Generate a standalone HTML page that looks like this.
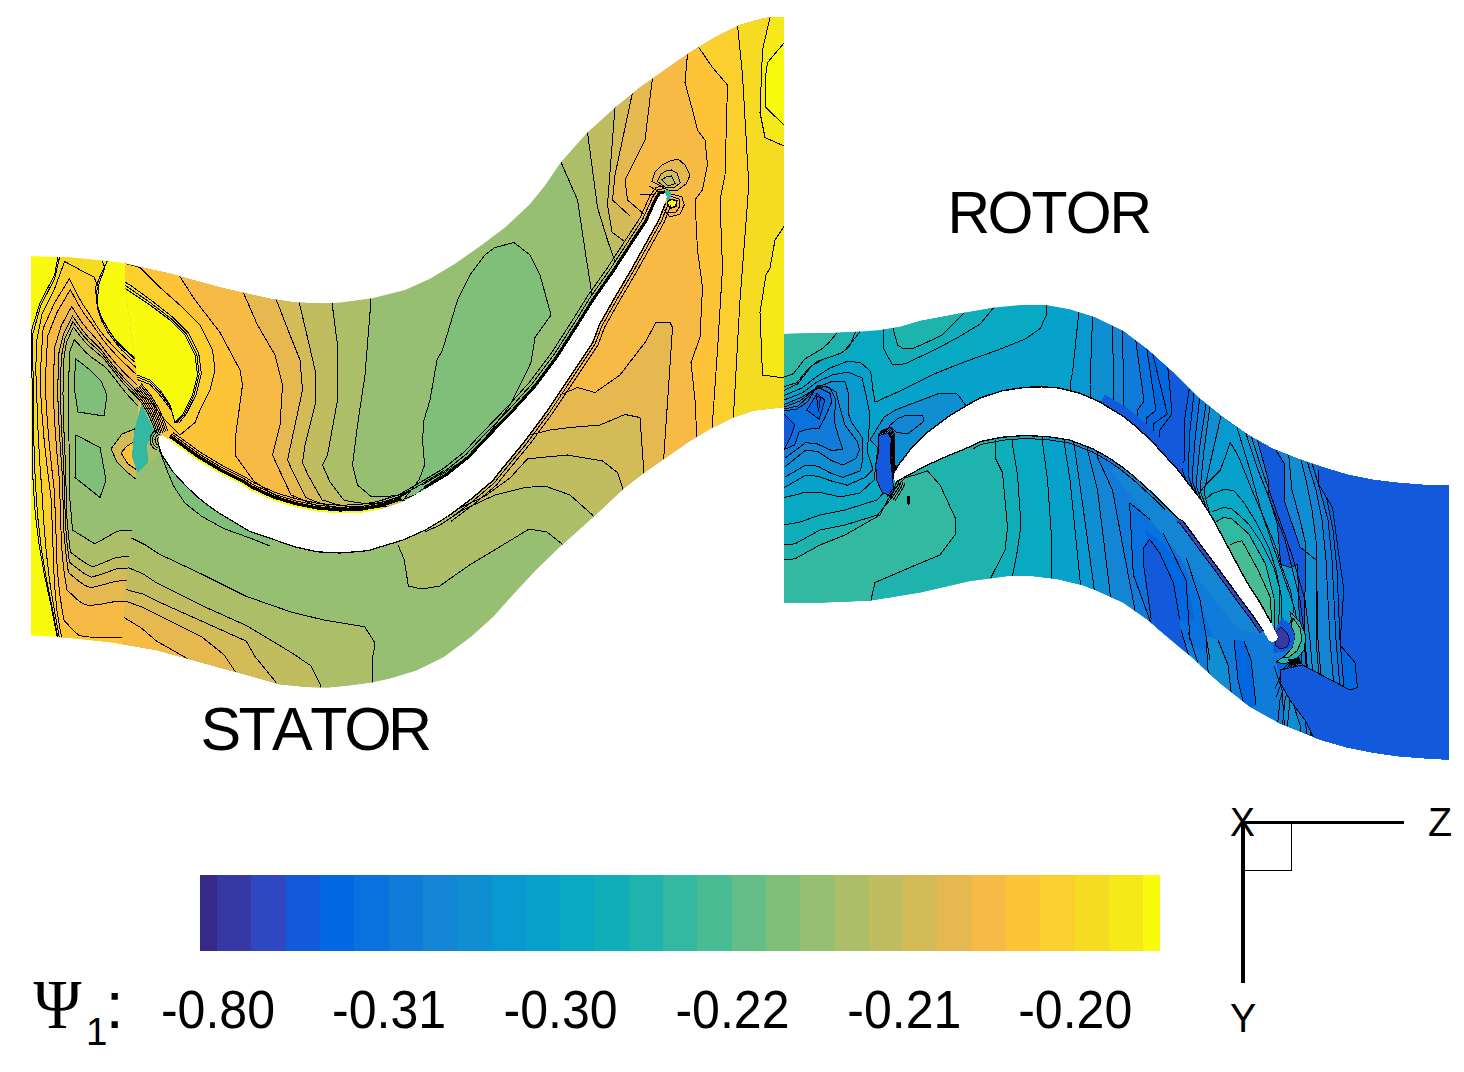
<!DOCTYPE html>
<html><head><meta charset="utf-8"><title>Stator / Rotor contour</title>
<style>html,body{margin:0;padding:0;background:#fff;overflow:hidden}svg{display:block}</style>
</head><body>
<svg width="1464" height="1072" viewBox="0 0 1464 1072" shape-rendering="crispEdges">
<defs>
<clipPath id="cst"><polygon points="31,256 70,257.5 120,262.5 170,273.8 220,287.5 270,298.8 295,302.5 323,303.4 340,302.8 370,298.8 405,290 430,278.8 455,263.8 480,246.2 505,227.5 530,204 545,185.5 560,163.5 586.6,133.4 614.6,108.2 640,87.5 665,70 690,52.5 715,37.5 740,25 765,18 784,17 784,407 753,410.5 731.7,418 710,428.7 688.8,441.6 667.3,456.6 645.8,471.6 624.4,487.7 603,508 581.5,527.4 560,546.7 536,570 514.6,593 493,617 471.3,636.4 443.9,656.9 416.6,670.5 389.3,678.7 372.9,682.2 348.3,685.6 327.8,687.6 307.3,687 280,684.2 246,674.8 201.5,662.5 156.7,650 112,642.3 67,637.4 31,635.6"/></clipPath>
<clipPath id="cin"><polygon points="0,240 125,240 125,285 131,330 136,365 139,400 137,440 136,480 134,510 132,530 128,567 125,605 122,645 122,720 0,720"/></clipPath>
<clipPath id="cpa"><polygon points="125,240 125,285 131,330 136,365 139,400 137,440 136,480 134,510 132,530 128,567 125,605 122,645 122,720 820,720 820,0 125,0"/></clipPath>
<clipPath id="cup"><polygon points="100,440 158,440 180,462 196,477 250,510 300,527 340,533 380,528 425,509 470,478 500,450 540,401 580,342 613,286 647,230 665,195 700,195 820,195 820,0 100,0"/></clipPath>
<clipPath id="cps"><polygon points="100,440 158,440 180,462 196,477 250,510 300,527 340,533 380,528 425,509 470,478 500,450 540,401 580,342 613,286 647,230 665,195 700,195 820,195 820,720 100,720"/></clipPath>
<clipPath id="crt"><polygon points="784,334 829.3,333.2 858.4,331.8 880.7,329.9 900,327 920,321 957.5,314 995,307.5 1020,305 1045,305 1070,309.5 1095,317.5 1123,331 1148,350 1173,372.5 1198,397.5 1223,417.5 1248,435 1273,449 1298,459 1323,467.5 1348,475 1373,480 1398,483 1423,485 1449,485 1449,759.5 1423,758 1398,756 1373,752.5 1348,747.5 1320,739.4 1309.3,735 1279.4,723 1249.6,706.6 1219.7,682.7 1189.9,655.8 1160,630.4 1148,620 1123,602.5 1098,591 1082.5,585 1057.5,579 1032.5,576 1007.5,576 970,581 920,592.5 870,600.5 820,602.5 784,602.5"/></clipPath>
</defs>
<rect width="1464" height="1072" fill="#fff"/>
<g clip-path="url(#cst)">
<g clip-path="url(#cin)">
<polygon points="0,240 140,240 140,720 0,720" fill="#f9fb0e"/>
<polygon points="150,665 142.1,664.5 134.2,664.1 126.3,663.6 118.4,663.1 110.5,662.6 102.6,662.2 94.9,660.5 87.4,658.2 79.8,655.9 72.5,652.8 65.6,649.3 61.3,642.7 57,636 51.1,605.8 44.6,575.8 39.2,545.6 35.4,515.1 33.2,484.5 32.1,453.8 32.1,423 32.2,392.3 31.8,361.6 31.3,330.9 40.3,302 54.6,275 60,245 74.6,246.5 89.1,248.1 103.7,249.6 107.3,261 101,274 95.7,287.2 96.4,301.8 100.5,315.5 107.7,328.3 115.8,340.5 126.3,350.6 137.4,360 150,367.5 160,700" fill="#f5e919"/>
<polygon points="150,664.6 142.2,664.1 134.3,663.7 126.5,663.2 118.7,662.8 110.9,662.3 103,661.9 95.4,660.4 87.9,658.3 80.3,656.1 73.1,653.3 66.3,649.6 62,643.1 57.7,636.5 51.9,606.7 45.9,576.9 41.1,546.9 37.7,516.7 35.6,486.4 34.2,456 33.7,425.6 33.5,395.2 32.9,364.8 32.7,334.4 40.7,305.6 54.6,278.8 61.3,249.5 74.5,252.1 87.7,254.6 101,257.1 104.9,268 100.1,280.5 96.2,293 97.7,306.8 102.2,319.6 109.4,331.6 117.4,343 127.5,352.7 138.1,361.8 150,369.2 160,700" fill="#f6db23"/>
<polygon points="150,663.5 142.4,663.1 134.7,662.8 127.1,662.4 119.4,662 111.8,661.6 104.1,661.2 96.6,660.1 89.2,658.4 81.8,656.6 74.5,654.5 68.4,650.4 63.9,644.2 59.4,638 54.1,608.8 49.4,579.7 46.1,550.4 43.7,520.9 41.9,491.3 39.7,461.9 38.1,432.3 37,402.8 35.9,373.2 36.2,343.6 41.7,315 54.6,288.7 64.6,261.5 74.2,266.7 83.9,271.9 93.8,276.9 98.4,286.8 97.8,297.6 97.7,308.5 101.2,319.8 106.6,330.4 113.8,340.4 121.6,349.9 130.6,358.4 139.9,366.5 150,373.6 160,700" fill="#fbcf2d"/>
<polygon points="150,662 142.6,661.7 135.2,661.4 127.9,661.1 120.5,660.8 113.1,660.5 105.7,660.2 98.4,659.7 91.1,658.6 83.8,657.4 76.5,656.2 71.3,651.5 66.7,645.7 62,640 57.1,612 54.4,583.7 53.3,555.3 52.3,526.9 51.1,498.5 47.5,470.3 44.3,442 42,413.7 40.2,385.4 41.2,356.9 43.1,328.6 54.5,302.9 69.4,278.7 73.9,287.7 78.4,296.7 83.4,305.4 89.2,313.7 94.4,322.2 99.9,330.6 106.2,338.5 113,345.9 120.2,353 127.6,359.8 135,366.6 142.5,373.3 150,380 160,700" fill="#ffc337"/>
<polygon points="150,638.1 142.8,637.8 135.6,637.6 128.3,637.4 121.1,637.2 113.9,637.1 106.8,637.4 99.8,637.6 92.8,637.2 85.8,636.8 78.8,635.2 73.5,630.7 68.7,625.4 63.9,620.1 59.7,594.5 57.2,568.7 56.3,542.7 55.4,516.8 54.3,490.8 51.4,465.1 48.8,439.2 46.8,413.4 45.3,387.5 46.2,361.5 47.8,335.7 57.2,312 70.3,289.7 75,298.2 79.7,306.7 84.9,314.8 90.9,322.5 96.4,330.4 101.9,338.4 108,346 114.5,353.2 121.2,360.2 128.3,366.9 135.4,373.6 142.7,380.1 150,386.5 160,700" fill="#f7ba45"/>
<polygon points="150,601.8 143,601.7 136,601.5 129,601.4 122,601.4 115,601.5 108.5,602.8 101.9,604.1 95.3,604.9 88.8,605.6 82.3,603.4 76.9,599.2 71.9,594.5 66.8,589.8 63.6,567.9 61.5,545.8 60.8,523.6 60.1,501.4 59.3,479.2 57.3,457.1 55.5,435 54.2,412.9 53.2,390.7 53.8,368.5 55,346.3 61.3,325.6 71.7,306.4 76.6,314.2 81.6,321.9 87.2,329.1 93.4,335.8 99.4,342.6 104.8,350.1 110.6,357.3 116.6,364.4 122.8,371.2 129.4,377.7 136,384.2 143,390.3 150,396.4 160,700" fill="#e5b950"/>
<polygon points="150,581 143.1,580.9 136.3,580.8 129.4,580.7 122.6,580.9 115.7,581.1 109.4,583 103.1,584.8 96.8,586.4 90.5,587.7 84.3,585.1 78.9,581.2 73.6,576.8 68.4,572.5 65.8,552.6 64,532.7 63.4,512.6 62.8,492.6 62.1,472.5 60.7,452.6 59.4,432.6 58.4,412.6 57.7,392.5 58.2,372.5 59,352.5 63.6,333.5 72.5,316 77.6,323.3 82.7,330.6 88.5,337.3 94.9,343.4 101.1,349.7 106.5,356.8 112.1,363.9 117.8,370.8 123.7,377.6 130.1,383.9 136.4,390.3 143.2,396.2 150,402.1 160,700" fill="#d3bb58"/>
<polygon points="150,568.7 143.2,568.6 136.4,568.5 129.6,568.5 122.9,568.7 116.1,569 109.9,571.2 103.8,573.4 97.7,575.4 91.5,577.1 85.5,574.3 80,570.5 74.7,566.4 69.4,562.2 67.1,543.6 65.5,524.9 64.9,506.1 64.4,487.4 63.8,468.6 62.7,449.9 61.7,431.1 60.9,412.4 60.4,393.6 60.7,374.8 61.5,356.1 65,338.1 72.9,321.7 78.1,328.7 83.4,335.8 89.3,342.1 95.8,348 102.1,353.9 107.5,360.8 113,367.7 118.6,374.6 124.3,381.3 130.4,387.6 136.6,393.9 143.3,399.7 150,405.5 160,700" fill="#c0bc60"/>
<polygon points="150,556.7 143.3,556.7 136.6,556.6 129.9,556.6 123.2,556.9 116.5,557.3 110.5,559.8 104.5,562.3 98.5,564.7 92.5,566.8 86.6,563.8 81.1,560.1 75.7,556.2 70.4,552.3 68.4,534.8 66.9,517.4 66.4,499.8 65.9,482.3 65.5,464.8 64.6,447.3 63.9,429.7 63.4,412.2 63,394.7 63.2,377.1 63.8,359.6 66.3,342.6 73.4,327.2 78.7,334 84,340.8 90,346.8 96.6,352.4 103.1,357.9 108.5,364.7 113.9,371.5 119.3,378.3 124.8,384.9 130.8,391.2 136.8,397.4 143.4,403.1 150,408.7 160,700" fill="#acbe68"/>
<polygon points="150,530 143.5,530 136.9,530 130.4,530.1 123.9,530.6 117.4,531.1 111.7,534.4 106,537.6 100.4,540.9 94.7,543.8 89.2,540.4 83.6,536.9 78.1,533.5 72.5,530 71.3,515.3 70,500.5 69.7,485.8 69.4,471 69.1,456.2 69,441.4 68.9,426.6 68.8,411.8 68.7,397.1 68.8,382.3 69.1,367.5 69.3,352.7 74.4,339.5 79.9,345.7 85.4,352 91.7,357.4 98.5,362.2 105.3,367 110.6,373.3 115.8,379.9 120.8,386.5 126,393 131.6,399.2 137.3,405.2 143.6,410.6 150,416 160,700" fill="#97bf71"/>
<polyline points="150,665 142.1,664.5 134.2,664.1 126.3,663.6 118.4,663.1 110.5,662.6 102.6,662.2 94.9,660.5 87.4,658.2 79.8,655.9 72.5,652.8 65.6,649.3 61.3,642.7 57,636 51.1,605.8 44.6,575.8 39.2,545.6 35.4,515.1 33.2,484.5 32.1,453.8 32.1,423 32.2,392.3 31.8,361.6 31.3,330.9 40.3,302 54.6,275 60,245 74.6,246.5 89.1,248.1 103.7,249.6 107.3,261 101,274 95.7,287.2 96.4,301.8 100.5,315.5 107.7,328.3 115.8,340.5 126.3,350.6 137.4,360 150,367.5" fill="none" stroke="#000" stroke-width="1"/>
<polyline points="150,664.6 142.2,664.1 134.3,663.7 126.5,663.2 118.7,662.8 110.9,662.3 103,661.9 95.4,660.4 87.9,658.3 80.3,656.1 73.1,653.3 66.3,649.6 62,643.1 57.7,636.5 51.9,606.7 45.9,576.9 41.1,546.9 37.7,516.7 35.6,486.4 34.2,456 33.7,425.6 33.5,395.2 32.9,364.8 32.7,334.4 40.7,305.6 54.6,278.8 61.3,249.5 74.5,252.1 87.7,254.6 101,257.1 104.9,268 100.1,280.5 96.2,293 97.7,306.8 102.2,319.6 109.4,331.6 117.4,343 127.5,352.7 138.1,361.8 150,369.2" fill="none" stroke="#000" stroke-width="1"/>
<polyline points="150,663.5 142.4,663.1 134.7,662.8 127.1,662.4 119.4,662 111.8,661.6 104.1,661.2 96.6,660.1 89.2,658.4 81.8,656.6 74.5,654.5 68.4,650.4 63.9,644.2 59.4,638 54.1,608.8 49.4,579.7 46.1,550.4 43.7,520.9 41.9,491.3 39.7,461.9 38.1,432.3 37,402.8 35.9,373.2 36.2,343.6 41.7,315 54.6,288.7 64.6,261.5 74.2,266.7 83.9,271.9 93.8,276.9 98.4,286.8 97.8,297.6 97.7,308.5 101.2,319.8 106.6,330.4 113.8,340.4 121.6,349.9 130.6,358.4 139.9,366.5 150,373.6" fill="none" stroke="#000" stroke-width="1"/>
<polyline points="150,662 142.6,661.7 135.2,661.4 127.9,661.1 120.5,660.8 113.1,660.5 105.7,660.2 98.4,659.7 91.1,658.6 83.8,657.4 76.5,656.2 71.3,651.5 66.7,645.7 62,640 57.1,612 54.4,583.7 53.3,555.3 52.3,526.9 51.1,498.5 47.5,470.3 44.3,442 42,413.7 40.2,385.4 41.2,356.9 43.1,328.6 54.5,302.9 69.4,278.7 73.9,287.7 78.4,296.7 83.4,305.4 89.2,313.7 94.4,322.2 99.9,330.6 106.2,338.5 113,345.9 120.2,353 127.6,359.8 135,366.6 142.5,373.3 150,380" fill="none" stroke="#000" stroke-width="1"/>
<polyline points="150,638.1 142.8,637.8 135.6,637.6 128.3,637.4 121.1,637.2 113.9,637.1 106.8,637.4 99.8,637.6 92.8,637.2 85.8,636.8 78.8,635.2 73.5,630.7 68.7,625.4 63.9,620.1 59.7,594.5 57.2,568.7 56.3,542.7 55.4,516.8 54.3,490.8 51.4,465.1 48.8,439.2 46.8,413.4 45.3,387.5 46.2,361.5 47.8,335.7 57.2,312 70.3,289.7 75,298.2 79.7,306.7 84.9,314.8 90.9,322.5 96.4,330.4 101.9,338.4 108,346 114.5,353.2 121.2,360.2 128.3,366.9 135.4,373.6 142.7,380.1 150,386.5" fill="none" stroke="#000" stroke-width="1"/>
<polyline points="150,601.8 143,601.7 136,601.5 129,601.4 122,601.4 115,601.5 108.5,602.8 101.9,604.1 95.3,604.9 88.8,605.6 82.3,603.4 76.9,599.2 71.9,594.5 66.8,589.8 63.6,567.9 61.5,545.8 60.8,523.6 60.1,501.4 59.3,479.2 57.3,457.1 55.5,435 54.2,412.9 53.2,390.7 53.8,368.5 55,346.3 61.3,325.6 71.7,306.4 76.6,314.2 81.6,321.9 87.2,329.1 93.4,335.8 99.4,342.6 104.8,350.1 110.6,357.3 116.6,364.4 122.8,371.2 129.4,377.7 136,384.2 143,390.3 150,396.4" fill="none" stroke="#000" stroke-width="1"/>
<polyline points="150,581 143.1,580.9 136.3,580.8 129.4,580.7 122.6,580.9 115.7,581.1 109.4,583 103.1,584.8 96.8,586.4 90.5,587.7 84.3,585.1 78.9,581.2 73.6,576.8 68.4,572.5 65.8,552.6 64,532.7 63.4,512.6 62.8,492.6 62.1,472.5 60.7,452.6 59.4,432.6 58.4,412.6 57.7,392.5 58.2,372.5 59,352.5 63.6,333.5 72.5,316 77.6,323.3 82.7,330.6 88.5,337.3 94.9,343.4 101.1,349.7 106.5,356.8 112.1,363.9 117.8,370.8 123.7,377.6 130.1,383.9 136.4,390.3 143.2,396.2 150,402.1" fill="none" stroke="#000" stroke-width="1"/>
<polyline points="150,568.7 143.2,568.6 136.4,568.5 129.6,568.5 122.9,568.7 116.1,569 109.9,571.2 103.8,573.4 97.7,575.4 91.5,577.1 85.5,574.3 80,570.5 74.7,566.4 69.4,562.2 67.1,543.6 65.5,524.9 64.9,506.1 64.4,487.4 63.8,468.6 62.7,449.9 61.7,431.1 60.9,412.4 60.4,393.6 60.7,374.8 61.5,356.1 65,338.1 72.9,321.7 78.1,328.7 83.4,335.8 89.3,342.1 95.8,348 102.1,353.9 107.5,360.8 113,367.7 118.6,374.6 124.3,381.3 130.4,387.6 136.6,393.9 143.3,399.7 150,405.5" fill="none" stroke="#000" stroke-width="1"/>
<polyline points="150,556.7 143.3,556.7 136.6,556.6 129.9,556.6 123.2,556.9 116.5,557.3 110.5,559.8 104.5,562.3 98.5,564.7 92.5,566.8 86.6,563.8 81.1,560.1 75.7,556.2 70.4,552.3 68.4,534.8 66.9,517.4 66.4,499.8 65.9,482.3 65.5,464.8 64.6,447.3 63.9,429.7 63.4,412.2 63,394.7 63.2,377.1 63.8,359.6 66.3,342.6 73.4,327.2 78.7,334 84,340.8 90,346.8 96.6,352.4 103.1,357.9 108.5,364.7 113.9,371.5 119.3,378.3 124.8,384.9 130.8,391.2 136.8,397.4 143.4,403.1 150,408.7" fill="none" stroke="#000" stroke-width="1"/>
<polyline points="150,530 143.5,530 136.9,530 130.4,530.1 123.9,530.6 117.4,531.1 111.7,534.4 106,537.6 100.4,540.9 94.7,543.8 89.2,540.4 83.6,536.9 78.1,533.5 72.5,530 71.3,515.3 70,500.5 69.7,485.8 69.4,471 69.1,456.2 69,441.4 68.9,426.6 68.8,411.8 68.7,397.1 68.8,382.3 69.1,367.5 69.3,352.7 74.4,339.5 79.9,345.7 85.4,352 91.7,357.4 98.5,362.2 105.3,367 110.6,373.3 115.8,379.9 120.8,386.5 126,393 131.6,399.2 137.3,405.2 143.6,410.6 150,416" fill="none" stroke="#000" stroke-width="1"/>
<polygon points="75.3,358.4 90.3,370.2 101,381 107,395 104,416 78,412 74.6,390" fill="#7fbf7a" stroke="#000" stroke-width="1"/>
<polygon points="76,435 100,447.5 106,480 100,497.5 75,477.5" fill="#7fbf7a" stroke="#000" stroke-width="1"/>
<polygon points="137,428 122,434 111,449 117,462 127,472 137,480" fill="#d3bb58" stroke="#000"/>
<polygon points="137,440 127,446 121,453 128,464 137,470" fill="#ffc337" stroke="#000"/>
</g>
<g clip-path="url(#cpa)">
<polygon points="100,0 820,0 820,720 100,720" fill="#97bf71"/>
<polygon points="110,531 132,538.2 145.5,545 159,554 201.5,574 246.3,596.4 291,612 323.7,620 364.7,626.8 374.3,641.9 374.3,648.7 372.9,655.5 372.2,681.5 372,700 100,720" fill="#acbe68"/>
<polygon points="110,566 127.6,567.3 143.3,574 156.7,583 201.5,605.4 246.3,625.5 291,652.4 311,665.8 320,683.8 322,700 100,720" fill="#c0bc60"/>
<polygon points="110,589 126.5,589.7 143.3,594.2 156.7,601 201.5,621 246.3,641.2 255.3,656.9 275.4,681.5 282,700 100,720" fill="#d3bb58"/>
<polygon points="110,600 125.4,601 143.3,607.6 170,621 201.5,636.7 224,654.7 237.3,674.8 245,700 100,720" fill="#e5b950"/>
<polygon points="110,617 124.3,617.7 141,627.8 156.7,641.2 188,659 195,700 100,720" fill="#f7ba45"/>
<polyline points="110,531 132,538.2 145.5,545 159,554 201.5,574 246.3,596.4 291,612 323.7,620 364.7,626.8 374.3,641.9 374.3,648.7 372.9,655.5 372.2,681.5 372,700" fill="none" stroke="#000" stroke-width="1"/>
<polyline points="110,566 127.6,567.3 143.3,574 156.7,583 201.5,605.4 246.3,625.5 291,652.4 311,665.8 320,683.8 322,700" fill="none" stroke="#000" stroke-width="1"/>
<polyline points="110,589 126.5,589.7 143.3,594.2 156.7,601 201.5,621 246.3,641.2 255.3,656.9 275.4,681.5 282,700" fill="none" stroke="#000" stroke-width="1"/>
<polyline points="110,600 125.4,601 143.3,607.6 170,621 201.5,636.7 224,654.7 237.3,674.8 245,700" fill="none" stroke="#000" stroke-width="1"/>
<polyline points="110,617 124.3,617.7 141,627.8 156.7,641.2 188,659 195,700" fill="none" stroke="#000" stroke-width="1"/>
<g clip-path="url(#cup)">
<polygon points="370,290 370,312.5 365,375 357.5,425 352.5,465 357.5,485 371.5,496.9 385.5,496.6 399.5,495 413.5,488.8 427.5,482.3 441.5,482.3 461.5,493.3 461.5,530 160,520 150,440 100,440 100,200 370,200" fill="#acbe68"/>
<polygon points="331,295 337.5,345 337.5,400 327.5,455 322.5,465 330,482 344,500.3 358,502.8 372,503.8 386,501.4 400,496.9 414,489.5 434,493.3 434,530 160,520 150,440 100,440 100,200 331,200" fill="#c0bc60"/>
<polygon points="297.5,295 307.5,337.5 315,370 315,405 305,445 302.5,462.5 308,475 322,499.9 336,504.2 350,507.1 364,507.2 378,504.8 392,500.5 412,500.6 412,530 160,520 150,440 100,440 100,200 297.5,200" fill="#d3bb58"/>
<polygon points="272.5,290 290,335 300,360 302.5,390 295,425 287.5,460 292,470 306,497.7 320,503.2 334,507.5 348,508.7 362,508.1 376,505.6 396,508.2 396,530 160,520 150,440 100,440 100,200 272.5,200" fill="#e5b950"/>
<polygon points="240,285 257.5,325 275,355 282.5,385 280,425 272.5,455 277,465 291,494.9 305,501 319,506.7 333,508.9 347,509.2 361,508.6 381,513.1 381,530 160,520 150,440 100,440 100,200 240,200" fill="#f7ba45"/>
<polygon points="172.5,265 195,300 220,332.5 240,370 242.5,385 235,440 235,455 240,462 254,481.3 268,490.8 282,498.7 296,503.7 310,506.6 324,508.6 344,517.3 344,530 160,520 150,440 100,440 100,200 172.5,200" fill="#ffc337"/>
<polyline points="370,290 370,312.5 365,375 357.5,425 352.5,465 357.5,485 371.5,496.9 385.5,496.6 399.5,495 413.5,488.8 427.5,482.3 441.5,482.3 461.5,493.3 461.5,530" fill="none" stroke="#000" stroke-width="1"/>
<polyline points="331,295 337.5,345 337.5,400 327.5,455 322.5,465 330,482 344,500.3 358,502.8 372,503.8 386,501.4 400,496.9 414,489.5 434,493.3 434,530" fill="none" stroke="#000" stroke-width="1"/>
<polyline points="297.5,295 307.5,337.5 315,370 315,405 305,445 302.5,462.5 308,475 322,499.9 336,504.2 350,507.1 364,507.2 378,504.8 392,500.5 412,500.6 412,530" fill="none" stroke="#000" stroke-width="1"/>
<polyline points="272.5,290 290,335 300,360 302.5,390 295,425 287.5,460 292,470 306,497.7 320,503.2 334,507.5 348,508.7 362,508.1 376,505.6 396,508.2 396,530" fill="none" stroke="#000" stroke-width="1"/>
<polyline points="240,285 257.5,325 275,355 282.5,385 280,425 272.5,455 277,465 291,494.9 305,501 319,506.7 333,508.9 347,509.2 361,508.6 381,513.1 381,530" fill="none" stroke="#000" stroke-width="1"/>
<polyline points="172.5,265 195,300 220,332.5 240,370 242.5,385 235,440 235,455 240,462 254,481.3 268,490.8 282,498.7 296,503.7 310,506.6 324,508.6 344,517.3 344,530" fill="none" stroke="#000" stroke-width="1"/>
<polygon points="120,262 140,267.5 160,287.5 182.5,307.5 200,325 212.5,350 215,370 210,390 200,410 195,422.5 180,435 165,420 150,400 137,395 120,395" fill="#fbcf2d" stroke="#000" stroke-width="1"/>
<polygon points="120,279.2 130.2,285.1 152.2,301.1 172.8,317.2 188.3,332.8 198.8,353.9 201.4,373.9 196.4,393.9 186.3,413.9 179.4,422.5 172.2,411.6 161.1,396.6 150,384.4 137,379.4 120,379.4" fill="#f6db23" stroke="#000" stroke-width="1"/>
<polygon points="120,281.8 128.8,287.8 151,303.2 171.2,318.8 186.5,334 196.8,354.5 199.2,374.5 194.2,394.5 184.2,414.5 177,422.5 171,408 160.5,393 150,382 137,377 120,377" fill="#f5e919" stroke="#000" stroke-width="1"/>
<polygon points="120,284 127.5,290 150,305 170,320 185,335 195,355 197.5,375 192.5,395 182.5,415 175,422.5 170,405 160,390 150,380 137,375 120,375" fill="#f9fb0e" stroke="#000" stroke-width="1"/>
<polygon points="485,255 495,247.5 514,242.5 530,255 540,275 551,315 535,337.5 531,362.5 525,375 510,405 490,432 482,452 440,486 404,499 419,480 424.6,465 422.5,440 424,420 430,400 437,360 442.5,350 457.5,300 470,275" fill="#7fbf7a" stroke="#000" stroke-width="1"/>
<polygon points="556,150 560,160 577.5,200 585,250 592,295 700,260 820,260 820,0 556,0" fill="#acbe68"/>
<polygon points="585,120 587.5,132.5 597.5,207.5 607.5,240 615,262 700,260 820,260 820,0 585,0" fill="#c0bc60"/>
<polygon points="615,100 615,107.5 607.5,205 612,232 625,242 700,260 820,260 820,0 615,0" fill="#d3bb58"/>
<polygon points="632.5,85 632.5,92.5 615,175 612.5,200 630,216 700,260 820,260 820,0 632.5,0" fill="#e5b950"/>
<polygon points="652.5,70 652.5,77.5 645,140 625,180 627.5,200 645,215 700,260 820,260 820,0 652.5,0" fill="#f7ba45"/>
<polyline points="556,150 560,160 577.5,200 585,250 592,295" fill="none" stroke="#000" stroke-width="1"/>
<polyline points="585,120 587.5,132.5 597.5,207.5 607.5,240 615,262" fill="none" stroke="#000" stroke-width="1"/>
<polyline points="615,100 615,107.5 607.5,205 612,232 625,242" fill="none" stroke="#000" stroke-width="1"/>
<polyline points="632.5,85 632.5,92.5 615,175 612.5,200 630,216" fill="none" stroke="#000" stroke-width="1"/>
<polyline points="652.5,70 652.5,77.5 645,140 625,180 627.5,200 645,215" fill="none" stroke="#000" stroke-width="1"/>
</g>
<g clip-path="url(#cps)">
<polygon points="398,545 404,559 408.4,586 421.8,589 439.7,586 469.6,565 499.4,547 529.3,529 547,532 562,544 570,560 820,560 820,0 398,0" fill="#acbe68"/>
<polygon points="425,532 440,525 462.5,510 495,495 525,487.5 545,486 570,495 592.5,515 600,525 820,525 820,0 425,0" fill="#c0bc60"/>
<polygon points="455,510 484.5,496.4 510,478 527.5,458.8 567.5,455 602.5,461 617.5,472.5 622.5,487.5 625,500 820,500 820,0 455,0" fill="#d3bb58"/>
<polygon points="530,435 550,430 570,427.5 600,425 625,414.5 640,417.5 643.8,471 645,480 820,480 820,0 530,0" fill="#e5b950"/>
<polygon points="560,395 577.5,387.5 595,392.5 620,375 645,342.5 656,322.5 670,322.5 672.5,327.5 663.8,457.5 664,470 820,470 820,0 560,0" fill="#f7ba45"/>
<polyline points="398,545 404,559 408.4,586 421.8,589 439.7,586 469.6,565 499.4,547 529.3,529 547,532 562,544 570,560" fill="none" stroke="#000" stroke-width="1"/>
<polyline points="425,532 440,525 462.5,510 495,495 525,487.5 545,486 570,495 592.5,515 600,525" fill="none" stroke="#000" stroke-width="1"/>
<polyline points="455,510 484.5,496.4 510,478 527.5,458.8 567.5,455 602.5,461 617.5,472.5 622.5,487.5 625,500" fill="none" stroke="#000" stroke-width="1"/>
<polyline points="530,435 550,430 570,427.5 600,425 625,414.5 640,417.5 643.8,471 645,480" fill="none" stroke="#000" stroke-width="1"/>
<polyline points="560,395 577.5,387.5 595,392.5 620,375 645,342.5 656,322.5 670,322.5 672.5,327.5 663.8,457.5 664,470" fill="none" stroke="#000" stroke-width="1"/>
</g>
<polygon points="687.5,40 687.5,54 685,82.5 692.5,110 697.5,130 705,140 707.5,165 702.5,190 695,200 697.5,250 702.5,287.5 700,337.5 691,362.5 695,400 697,440 820,440 820,0 687.5,0" fill="#ffc337"/>
<polygon points="698.8,35 698.8,47.5 712.5,67.5 727.5,85 725,175 720,200 722.5,268 717.5,350 712.5,422.5 712,440 820,440 820,0 698.8,0" fill="#fbcf2d"/>
<polygon points="737.5,10 737.5,25 742.5,75 748.8,185 742.5,268 740,300 733.8,410 733,420 820,420 820,0 737.5,0" fill="#f6db23"/>
<polygon points="770,10 770,17.5 762.5,50 760,112.5 765,137.5 790,148.8 820,148 820,0" fill="#f5e919"/>
<polygon points="790,217.5 775,240 770,268 766,275 760,312.5 762.5,375 790,378.8 820,380 820,210" fill="#f5e919"/>
<polygon points="790,36 767.5,62.5 765,80 766,107.5 790,131" fill="#f9fb0e"/>
<polyline points="687.5,40 687.5,54 685,82.5 692.5,110 697.5,130 705,140 707.5,165 702.5,190 695,200 697.5,250 702.5,287.5 700,337.5 691,362.5 695,400 697,440" fill="none" stroke="#000" stroke-width="1"/>
<polyline points="698.8,35 698.8,47.5 712.5,67.5 727.5,85 725,175 720,200 722.5,268 717.5,350 712.5,422.5 712,440" fill="none" stroke="#000" stroke-width="1"/>
<polyline points="737.5,10 737.5,25 742.5,75 748.8,185 742.5,268 740,300 733.8,410 733,420" fill="none" stroke="#000" stroke-width="1"/>
<polyline points="770,10 770,17.5 762.5,50 760,112.5 765,137.5 790,148.8" fill="none" stroke="#000" stroke-width="1"/>
<polyline points="790,217.5 775,240 770,268 766,275 760,312.5 762.5,375 790,378.8" fill="none" stroke="#000" stroke-width="1"/>
<polyline points="790,36 767.5,62.5 765,80 766,107.5 790,131" fill="none" stroke="#000" stroke-width="1"/>
</g>
<polygon points="141.5,403.3 150,412 158,425 162,436 159,446 156,458 149,463 148,452 147,444.4 154.5,433 148,418" fill="#acbe68"/>
<polygon points="141.5,403.3 148,418 154.5,433 147,444.4 148,462 137.7,473.3 132,456.5 134,432" fill="#33b8a1"/>
<polyline points="132.1,391.3 141.8,402.9 148.4,414.3 153.2,425.8 156.2,434.6" fill="none" stroke="#000" stroke-width="1"/>
<polyline points="133.4,390.2 143.2,402 150,413.5 154.8,425.2 157.8,434.1" fill="none" stroke="#000" stroke-width="1"/>
<polyline points="134.7,389.1 144.6,401 151.5,412.8 156.4,424.6 159.4,433.5" fill="none" stroke="#000" stroke-width="1"/>
<polyline points="136,388 146,400 153,412 158,424 161,433" fill="none" stroke="#000" stroke-width="1"/>
<polyline points="137.3,386.9 147.4,399 154.5,411.2 159.6,423.4 162.6,432.5" fill="none" stroke="#000" stroke-width="1"/>
<polyline points="138.6,385.8 148.8,398 156,410.5 161.2,422.8 164.2,431.9" fill="none" stroke="#000" stroke-width="1"/>
<polyline points="139.9,384.7 150.2,397.1 157.6,409.7 162.8,422.2 165.8,431.4" fill="none" stroke="#000" stroke-width="1"/>
<polyline points="141.2,383.6 151.5,396.1 159.1,409 164.4,421.6 167.5,430.8" fill="none" stroke="#000" stroke-width="1"/>
<polyline points="159.8,443.3 159,442.9 158.3,442.2 157.8,441.5 157.6,440.6 157.5,439.7 157.7,438.8 158.1,438 158.8,437.3 159.5,436.8 160.4,436.6" fill="none" stroke="#000" stroke-width="1"/>
<polyline points="158.9,445.6 157.6,444.9 156.4,443.9 155.6,442.5 155.1,441 155,439.5 155.4,437.9 156.1,436.6 157.1,435.4 158.5,434.6 160,434.1" fill="none" stroke="#000" stroke-width="1"/>
<polyline points="158.1,448 156.1,447 154.5,445.5 153.3,443.6 152.6,441.5 152.5,439.3 153,437.1 154,435.1 155.5,433.5 157.4,432.3 159.5,431.6" fill="none" stroke="#000" stroke-width="1"/>
<polyline points="157.2,450.3 154.7,449 152.6,447.1 151,444.6 150.2,441.9 150,439 150.7,436.2 152,433.7 153.9,431.6 156.4,430 159.1,429.2" fill="none" stroke="#000" stroke-width="1"/>
<polygon points="158,445 159,449 168,472.7 173.6,486 184.8,503 201.6,516.3 224,528.7 250,538 270,546 270,530 200,490 165,455" fill="#7fbf7a"/>
<polyline points="159,449 168,472.7 173.6,486 184.8,503 201.6,516.3 224,528.7 250,538 270,546" fill="none" stroke="#000" stroke-width="1"/>
<polyline points="168,439.1 179.2,447 196,459.3 218.4,472.7 240.8,483.9 250,490 272.4,500.3 294.8,507 317.2,511.5 339.6,513.5 362,512.6 380,509.4" fill="none" stroke="#f9fb0e" stroke-width="7"/>
<polyline points="170,436.2 181.2,444.2 197.9,456.4 220.1,469.6 242.5,480.8 251.6,486.9 273.6,497 295.6,503.6 317.7,508 339.7,510 361.6,509.1 379.1,506 401.3,498.8" fill="none" stroke="#000" stroke-width="3.2"/>
<polyline points="171.6,434 182.8,442 199.4,454.1 221.4,467.3 243.8,478.5 252.9,484.5 274.6,494.5 296.3,501 318.1,505.4 339.8,507.3 361.4,506.4 378.4,503.4 399.9,496.4 421.7,484 444,470.5" fill="none" stroke="#000" stroke-width="1"/>
<polyline points="172.7,432.4 184,440.3 200.5,452.4 222.3,465.5 244.7,476.7 253.8,482.7 275.3,492.6 296.8,499 318.4,503.4 339.8,505.3 361.2,504.4 377.9,501.5 399,494.6 420.6,482.2 443,468.8" fill="none" stroke="#000" stroke-width="1"/>
<polygon points="419,492 430,483 447,471 457,464 455,470 442,480 425,491" fill="#4abc93" stroke="#000" stroke-width="0.8"/>
<polygon points="652,181.3 655,172 662,165 670,161 678,159 685,165 690,175.4 686,184 678,190 668,190" fill="#e5b950" stroke="#000"/>
<polygon points="657.3,181.3 661,174 666,171 671.5,170 677,173 680.4,182.8 675,187 665,187" fill="#d3bb58" stroke="#000"/>
<polygon points="661.8,179.9 666,177 671.5,176 675.2,183.6 668,186" fill="#c0bc60" stroke="#000"/>
<polyline points="665,196 672,194 682,197 684.2,205 680,214 670,217 664,210" fill="none" stroke="#000" stroke-width="1"/>
<polyline points="666,198 672,196.5 679,199 680,206 676,212 668,213" fill="none" stroke="#000" stroke-width="1"/>
<polygon points="667.8,201 672,199.3 676.7,201 676,206 671,208.2 667.5,205" fill="#f9fb0e" stroke="#000" stroke-width="1.6"/>
<polygon points="664.5,191 668,189.5 671.5,193 670.5,198.5 667,201 666,196" fill="#33b8a1"/>
<polyline points="640,194.4 653.6,194.8" fill="none" stroke="#000" stroke-width="1"/>
<polyline points="649,186 656,190 660,193" fill="none" stroke="#000" stroke-width="1"/>
<polygon points="158.5,436.9 162.4,435.2 168,439.1 179.2,447 196,459.3 218.4,472.7 240.8,483.9 250,490 272.4,500.3 294.8,507 317.2,511.5 339.6,513.5 362,512.6 380,509.4 402.4,502.1 424.8,489.3 447.2,475.8 469.6,457.9 486.3,440 513.6,411.8 536,387 558.4,357 580.7,322.2 594.5,300 613.6,272.9 630.4,247.2 647.2,221.4 657.2,199 660.6,194 665,193.4 666.8,196.8 665,202.4 658.4,219.2 647.2,239.3 630.4,269.6 612.5,300 598.7,324.5 592,342.4 569.6,376 547.2,409.6 524.8,440 500,470.2 492,480.3 469.6,499.3 447.2,516.1 424.8,529.6 402.4,539.6 380,546.3 370,549.6 362,550.7 339.6,552.4 317.2,551.2 294.8,546.2 272.4,538.4 250,531 229.6,518.6 218.4,511.9 207.2,504 196,495 184.8,483.9 173.6,471.6 162.4,454.8 158.5,442.5" fill="#fff"/>
<polyline points="424,488 446.3,474.6 468.6,456.8 485.2,439 512.5,410.8 534.8,386.1 557.2,356.1 579.4,321.4 593.3,299.2 612.4,272.1 629.1,246.4 645.9,220.7 655.9,198.3 659.7,192.8 664.8,191.9" fill="none" stroke="#000" stroke-width="3"/>
<polyline points="422.2,485 444.3,471.7 466.2,454.2 482.7,436.5 510,408.4 532.1,383.8 554.3,354.2 576.5,319.5 590.3,297.2 609.5,270.1 626.2,244.5 642.8,219 652.7,196.8 657.7,189.9 664.3,188.4" fill="none" stroke="#000" stroke-width="1"/>
<polyline points="420.7,482.4 442.6,469.2 464.2,452 480.5,434.5 507.8,406.3 529.8,381.9 551.8,352.5 573.9,317.9 587.8,295.6 607,268.4 623.7,242.8 640.2,217.5 650,195.5 655.9,187.5 663.9,185.5" fill="none" stroke="#000" stroke-width="1"/>
<polyline points="665.7,202.7 659.1,219.5 647.9,239.7 631.1,270 613.2,300.4 599.4,324.8 592.7,342.8 570.3,376.4 547.9,410.1 525.4,440.5 500.6,470.7 492.6,480.9 470.1,499.9 447.7,516.7" fill="none" stroke="#000" stroke-width="1.4"/>
<polyline points="668.3,203.7 661.6,220.7 650.3,241 633.4,271.3 615.5,301.8 601.9,326 595,344.1 572.5,377.9 550.1,411.6 527.6,442.2 502.7,472.4 494.4,482.8 471.8,502 449.3,518.9" fill="none" stroke="#000" stroke-width="1"/>
<polyline points="671,204.8 664.3,222 652.9,242.5 636,272.8 618.1,303.3 604.6,327.3 597.7,345.6 575,379.6 552.5,413.3 529.9,444 505,474.3 496.5,485 473.7,504.4 451.1,521.3" fill="none" stroke="#000" stroke-width="1"/>
<polyline points="447.5,516.6 425.1,530.1 402.6,540.2 380.2,546.9 370.1,550.2 362.1,551.3 339.6,553 317.1,551.8 294.6,546.8 272.2,539 249.7,531.5 229.3,519.1 218.1,512.4 206.8,504.5 195.6,495.4 184.4,484.3 173.1,472 161.9,455.1 157.9,442.7" fill="none" stroke="#000" stroke-width="1.2"/>
</g>
<clipPath id="rup"><polygon points="770,481 893,481 910,462 927,449 950,435 980,420 1000,414 1025,411.5 1045,411.5 1070,414 1092,421 1110,431 1130,447 1150,466 1170,488 1190,512 1210,538 1230,567 1250,597 1265,622 1273,642 1276,700 1278,780 1480,780 1480,280 770,280"/></clipPath>
<clipPath id="rlo"><polygon points="770,481 893,481 910,462 927,449 950,435 980,420 1000,414 1025,411.5 1045,411.5 1070,414 1092,421 1110,431 1130,447 1150,466 1170,488 1190,512 1210,538 1230,567 1250,597 1265,622 1273,642 1276,700 1278,780 770,780"/></clipPath>
<g clip-path="url(#crt)">
<polygon points="770,290 1480,290 1480,780 770,780" fill="#07a9c3"/>
<polygon points="770,391 784,390.5 797.9,383.8 811.3,366 822.5,359.7 842.7,352.5 851.6,342.4 859.5,332.3 862,320 862,300 770,300" fill="#0faeb9"/>
<polygon points="770,387 784,386.6 796.8,382.7 808,369.3 817,361.4 840.5,353.6 849.4,346.9 855,332.9 857,320 857,300 770,300" fill="#1fb3ae"/>
<polygon points="770,377 784,377 793.4,373.7 804.6,359.2 821.4,349.1 828.1,343.5 836.5,333.4 840,320 840,300 770,300" fill="#33b8a1"/>
<polyline points="770,391 784,390.5 797.9,383.8 811.3,366 822.5,359.7 842.7,352.5 851.6,342.4 859.5,332.3 862,320" fill="none" stroke="#000" stroke-width="1"/>
<polyline points="770,387 784,386.6 796.8,382.7 808,369.3 817,361.4 840.5,353.6 849.4,346.9 855,332.9 857,320" fill="none" stroke="#000" stroke-width="1"/>
<polyline points="770,377 784,377 793.4,373.7 804.6,359.2 821.4,349.1 828.1,343.5 836.5,333.4 840,320" fill="none" stroke="#000" stroke-width="1"/>
<polygon points="883.3,318 883.3,329.3 883.3,348 892.3,364.6 905,363.9 935,349.6 957.7,337.6 980.2,324 993.7,307.5 996,296 996,290 883.3,290" fill="#0faeb9"/>
<polygon points="893,318 893,328.5 897.6,345 903.6,348.8 914,348 927.6,342 942.6,334.6 963.7,313.5 970,300 970,290 893,290" fill="#1fb3ae"/>
<polyline points="883.3,318 883.3,329.3 883.3,348 892.3,364.6 905,363.9 935,349.6 957.7,337.6 980.2,324 993.7,307.5 996,296" fill="none" stroke="#000" stroke-width="1"/>
<polyline points="893,318 893,328.5 897.6,345 903.6,348.8 914,348 927.6,342 942.6,334.6 963.7,313.5 970,300" fill="none" stroke="#000" stroke-width="1"/>
<polygon points="770,395.5 784,395.5 802,388 816,377 830,368 847,361.4 860.6,362.5 870.7,371.5 873,390.5 875,402.2 905,388.7 935,373.6 965.2,361.6 995.2,351 1025.3,339 1040.3,328.5 1046.3,315 1046.3,300 1100,300 1100,440 960,450 900,470 876,430 878,430 877,455 874,480 860,493 840,497 819,492 806,492 795,495 784,497.5 770,497.5" fill="#06a2cb"/>
<polygon points="770,400 784,400 802,393 817,382 832,375 848,372 862,378 866,395 870,415 868.4,437 867.3,451.6 873,469.6 865,477.4 847.2,485.2 830.4,480.7 818,476.3 805.7,475.2 784.5,487.5 770,487.5" fill="#0899d1"/>
<polygon points="770,404.6 784,404.6 802,397 818,387 833,381 845,382 849,395 848.3,413.6 851.6,422.5 862.8,438.2 862.8,458.4 860.6,470.7 842.7,477.4 830.4,473 818,466.2 805.7,465 784.5,477.4 770,477.4" fill="#108ed2"/>
<polygon points="770,407 784,407 800,401 814,390 826,386 836,392 840,408 845,425 857.2,441.6 859.5,449.4 856,458.4 842.7,465 831.5,460.6 818,451.6 805.7,450 784.5,467.3 770,467.3" fill="#1484d4"/>
<polygon points="770,409 784,409 798,406 810,395 818,385 830,388 836,400 834,420 838,435 842.7,449.4 831.5,450.5 817,443.8 805.7,442.7 784.5,458.4 770,458.4" fill="#117bd9"/>
<polygon points="770,411 784,411 796.8,409 806.9,402.4 817,386.7 830.4,393.4 831.5,402.4 824.8,418 819.2,428.1 806.9,429.3 799,432 794.6,445 784.5,449.4 770,449.4" fill="#0972de"/>
<polyline points="784,395.5 802,388 816,377 830,368 847,361.4 860.6,362.5 870.7,371.5 873,390.5 875,402.2 905,388.7 935,373.6 965.2,361.6 995.2,351 1025.3,339 1040.3,328.5 1046.3,315 1046.3,300" fill="none" stroke="#000" stroke-width="1"/>
<polyline points="878,430 877,455 874,480 860,493 840,497 819,492 806,492 795,495 784,497.5" fill="none" stroke="#000" stroke-width="1"/>
<polyline points="784,400 802,393 817,382 832,375 848,372 862,378 866,395 870,415 868.4,437 867.3,451.6 873,469.6 865,477.4 847.2,485.2 830.4,480.7 818,476.3 805.7,475.2 784.5,487.5" fill="none" stroke="#000" stroke-width="1"/>
<polyline points="784,404.6 802,397 818,387 833,381 845,382 849,395 848.3,413.6 851.6,422.5 862.8,438.2 862.8,458.4 860.6,470.7 842.7,477.4 830.4,473 818,466.2 805.7,465 784.5,477.4" fill="none" stroke="#000" stroke-width="1"/>
<polyline points="784,407 800,401 814,390 826,386 836,392 840,408 845,425 857.2,441.6 859.5,449.4 856,458.4 842.7,465 831.5,460.6 818,451.6 805.7,450 784.5,467.3" fill="none" stroke="#000" stroke-width="1"/>
<polyline points="784,409 798,406 810,395 818,385 830,388 836,400 834,420 838,435 842.7,449.4 831.5,450.5 817,443.8 805.7,442.7 784.5,458.4" fill="none" stroke="#000" stroke-width="1"/>
<polyline points="784,411 796.8,409 806.9,402.4 817,386.7 830.4,393.4 831.5,402.4 824.8,418 819.2,428.1 806.9,429.3 799,432 794.6,445 784.5,449.4" fill="none" stroke="#000" stroke-width="1"/>
<polygon points="770,413 783.9,413.6 794.6,424.8 791.2,436 784.5,449.4 770,449" fill="#1359db" stroke="#000"/>
<polygon points="806.9,410.2 817,393.4 824.8,400 819.2,419.2" fill="#0268e1" stroke="#000"/>
<polygon points="816.5,395.5 820.5,398 818.5,412" fill="#1359db" stroke="#000"/>
<polygon points="870,440 884,417.2 896,409.7 939.6,393.2 956.2,393.2 959.2,396.2 966,406 930,440 900,470" fill="#108ed2" stroke="#000"/>
<polygon points="889,426 897.6,418.7 905,415.7 922.7,415.8 923.8,421.4 908,433.7 897,432.6" fill="#1484d4" stroke="#000"/>
<polygon points="893,481 910,462 927,449 950,435 980,420 1000,414 1025,411.5 1045,411.5 1070,414 1092,421 1110,431 1130,447 1150,466 1170,488 1190,512 1210,538 1230,567 1250,597 1265,622 1273,642 1276,700 1278,780 880,780" fill="#1fb3ae"/>
<polygon points="1200,560 1330,560 1330,790 1200,790" fill="#117bd9"/>
<polygon points="770,525 784,525 800,522 820,515 845,510 877,500 888,488 895,470 895,640 770,640" fill="#0faeb9"/>
<polygon points="770,545 784,545 795,543.8 820,530 845,525 877.5,515 890,500 898,478 898,640 770,640" fill="#1fb3ae"/>
<polygon points="770,560 784,560 795,558.8 820,545 845,535 880,515 893,490 905,478 927.5,471 940,485 955,517.5 955,535 940,555 910,567.5 875,582.5 871,600 870,620 870,640 770,640" fill="#33b8a1"/>
<polyline points="770,525 784,525 800,522 820,515 845,510 877,500 888,488 895,470" fill="none" stroke="#000" stroke-width="1"/>
<polyline points="770,545 784,545 795,543.8 820,530 845,525 877.5,515 890,500 898,478" fill="none" stroke="#000" stroke-width="1"/>
<polyline points="770,560 784,560 795,558.8 820,545 845,535 880,515 893,490 905,478 927.5,471 940,485 955,517.5 955,535 940,555 910,567.5 875,582.5 871,600 870,620" fill="none" stroke="#000" stroke-width="1"/>
<polygon points="878.5,436 886.9,432.6 891.3,438.2 890.2,458.4 892.5,475.2 893.6,492 890.2,495.3 882.4,493 876.8,480.7 875.7,465 878.5,451.6" fill="#1359db" stroke="#000"/>
<polyline points="878.5,434.5 886.9,431 892,437 891,458 893.5,476" fill="none" stroke="#000" stroke-width="1"/>
<polyline points="879.3,433.3 887.9,429.8 893,436 892.2,458 894.2,476" fill="none" stroke="#000" stroke-width="1"/>
<polyline points="880.1,432.1 888.9,428.6 894,435 893.4,458 894.9,476" fill="none" stroke="#000" stroke-width="1"/>
<polyline points="880.9,430.9 889.9,427.4 895,434 894.6,458 895.6,476" fill="none" stroke="#000" stroke-width="1"/>
<polyline points="887,497 895,486 897,481" fill="none" stroke="#000" stroke-width="1"/>
<polyline points="889,498 897,486.5 899,481.5" fill="none" stroke="#000" stroke-width="1"/>
<polyline points="891,499 899,487 901,482" fill="none" stroke="#000" stroke-width="1"/>
<polyline points="893,500 901,487.5 903,482.5" fill="none" stroke="#000" stroke-width="1"/>
<polyline points="895,501 903,488 905,483" fill="none" stroke="#000" stroke-width="1"/>
</g>
<ellipse cx="908.5" cy="500" rx="1.6" ry="4.5" fill="#000"/>
<g clip-path="url(#crt)"><g clip-path="url(#rlo)">
<polygon points="995,440 995,450 995,457.5 1002.5,472.5 1007.5,527.5 1005,550 991,577.5 990,600 1300,600 1300,400 995,400" fill="#0faeb9"/>
<polygon points="1012.5,440 1012.5,445 1017.5,475 1021,525 1017.5,550 1012.5,576 1012,600 1300,600 1300,400 1012.5,400" fill="#07a9c3"/>
<polygon points="1042.5,435 1042.5,442.5 1047.5,480 1051,530 1051,576 1051,600 1300,600 1300,400 1042.5,400" fill="#06a2cb"/>
<polygon points="1064,435 1064,442 1070,480 1080,580 1081,600 1300,600 1300,400 1064,400" fill="#0899d1"/>
<polygon points="1073.8,435 1073.8,442.5 1081,492.5 1094,587.5 1095,600 1300,600 1300,400 1073.8,400" fill="#108ed2"/>
<polygon points="1087.5,440 1087.5,450 1097.5,490 1110,592.5 1112,610 1300,610 1300,400 1087.5,400" fill="#1484d4"/>
<polygon points="1097.5,445 1097.5,457.5 1112.5,490 1125,558 1134.8,608.8 1138,640 1300,640 1300,400 1097.5,400" fill="#117bd9"/>
<polygon points="1115.4,494 1129.6,502.8 1149.7,519.3 1239,630 1245,700 1151.2,623.7 1134.8,608.8 1125,558" fill="#117bd9"/>
<polygon points="1129.6,502.8 1149.7,519.3 1180,556 1200,600 1220,660 1151.2,623.7 1133.3,574.5" fill="#0972de"/>
<polygon points="1146,530 1165,545 1185,575 1195,620 1150,623" fill="#0268e1"/>
<polygon points="1149.7,539.4 1160.1,553.6 1173.6,583.4 1179.6,619.3 1185,670 1151.2,619.3 1143.7,565.5 1143.7,547.6" fill="#1359db"/>
<polygon points="1110,470 1239,630 1290,640 1290,440" fill="#1484d4"/>
<polygon points="1200,652 1215,640 1240,634 1268,636 1276,700 1280,790 1200,790" fill="#117bd9"/>
<polygon points="1150,625 1181,630 1190,660 1200,700 1150,700" fill="#1359db"/>
<polygon points="1234,640 1244,641 1251,660 1256,705 1245,710 1238,680" fill="#0268e1"/>
<polygon points="1206,636 1218,640 1228,665 1232,700 1218,700 1208,670" fill="#108ed2"/>
<polyline points="1181,630 1190,660 1200,700" fill="none" stroke="#000" stroke-width="1"/>
<polyline points="1188,632 1197,660 1206,700" fill="none" stroke="#000" stroke-width="1"/>
<polyline points="1206,636 1208,670 1218,700" fill="none" stroke="#000" stroke-width="1"/>
<polyline points="1218,640 1228,665 1232,700" fill="none" stroke="#000" stroke-width="1"/>
<polyline points="1234,640 1238,680 1245,710" fill="none" stroke="#000" stroke-width="1"/>
<polyline points="1244,641 1251,660 1256,705" fill="none" stroke="#000" stroke-width="1"/>
<polyline points="995,440 995,450 995,457.5 1002.5,472.5 1007.5,527.5 1005,550 991,577.5 990,600" fill="none" stroke="#000" stroke-width="1"/>
<polyline points="1012.5,440 1012.5,445 1017.5,475 1021,525 1017.5,550 1012.5,576 1012,600" fill="none" stroke="#000" stroke-width="1"/>
<polyline points="1042.5,435 1042.5,442.5 1047.5,480 1051,530 1051,576 1051,600" fill="none" stroke="#000" stroke-width="1"/>
<polyline points="1064,435 1064,442 1070,480 1080,580 1081,600" fill="none" stroke="#000" stroke-width="1"/>
<polyline points="1073.8,435 1073.8,442.5 1081,492.5 1094,587.5 1095,600" fill="none" stroke="#000" stroke-width="1"/>
<polyline points="1087.5,440 1087.5,450 1097.5,490 1110,592.5 1112,610" fill="none" stroke="#000" stroke-width="1"/>
<polyline points="1097.5,445 1097.5,457.5 1112.5,490 1125,558 1134.8,608.8 1138,640" fill="none" stroke="#000" stroke-width="1"/>
<polyline points="1129.6,502.8 1133.3,574.5 1151.2,623.7" fill="none" stroke="#000" stroke-width="1"/>
<polyline points="1149.7,539.4 1160.1,553.6 1173.6,583.4 1179.6,619.3" fill="none" stroke="#000" stroke-width="1"/>
<polyline points="1149.7,539.4 1143.7,547.6 1143.7,565.5 1151.2,619.3" fill="none" stroke="#000" stroke-width="1"/>
<polyline points="1163,532.7 1186,580 1190,640" fill="none" stroke="#000" stroke-width="1"/>
<polyline points="1186.3,558 1200,600 1210,660" fill="none" stroke="#000" stroke-width="1"/>
<polyline points="1129.6,502.8 1149.7,519.3" fill="none" stroke="#000" stroke-width="1"/>
</g></g>
<g clip-path="url(#crt)"><g clip-path="url(#rup)">
<polygon points="1078.8,300 1078.8,312.5 1072.5,372.5 1070,385 1070,405 1110,465 1300,780 1480,780 1480,280 1078.8,280" fill="#0899d1"/>
<polygon points="1092.5,300 1092.5,317.5 1090,385 1090,410 1130,470 1300,780 1480,780 1480,280 1092.5,280" fill="#108ed2"/>
<polygon points="1112.5,310 1112.5,327.5 1113.8,395 1113,420 1153,480 1300,780 1480,780 1480,280 1112.5,280" fill="#1484d4"/>
<polygon points="1122.5,320 1122.5,332.5 1123.8,400 1124,430 1164,490 1300,780 1480,780 1480,280 1122.5,280" fill="#117bd9"/>
<polygon points="1135.6,325 1135.6,339.3 1144,401 1137.5,410 1137,440 1177,500 1300,780 1480,780 1480,280 1135.6,280" fill="#0972de"/>
<polygon points="1146.8,330 1146.8,348.7 1156,410.2 1146.8,417.7 1146,450 1186,510 1300,780 1480,780 1480,280 1146.8,280" fill="#0268e1"/>
<polygon points="1152.4,335 1152.4,352.4 1167.3,414 1154,423.3 1150,460 1190,520 1300,780 1480,780 1480,280 1152.4,280" fill="#0268e1"/>
<polygon points="1165,340 1167,360 1170,390 1172,414 1160,430 1155,470 1195,530 1300,780 1480,780 1480,280 1165,280" fill="#1359db"/>
<polygon points="1186,360 1189.7,386 1184,423.3 1184,460.6 1182.2,470 1190,490 1240,640 1290,780 1480,780 1480,280 1186,280" fill="#0268e1"/>
<polygon points="1192,370 1194.4,389.7 1190,430 1188,475 1195,495 1240,640 1290,780 1480,780 1480,280 1192,280" fill="#0972de"/>
<polygon points="1198,375 1200,395.3 1195,440 1192,480 1199,500 1240,640 1290,780 1480,780 1480,280 1198,280" fill="#117bd9"/>
<polygon points="1204,380 1206.5,400.9 1200,445 1196,485 1203,505 1240,640 1290,780 1480,780 1480,280 1204,280" fill="#1484d4"/>
<polygon points="1208,385 1210.2,404.6 1204,450 1200,490 1207,510 1240,640 1290,780 1480,780 1480,280 1208,280" fill="#108ed2"/>
<polygon points="1218,395 1221.4,414 1212,455 1204,492 1210,515 1240,640 1290,780 1480,780 1480,280 1218,280" fill="#0899d1"/>
<polygon points="1233,410 1236.3,425 1250,470 1262,514 1278,560 1295,610 1300,640 1305,700 1308,780 1480,780 1480,280 1233,280" fill="#0899d1"/>
<polygon points="1243,420 1245.7,432.6 1258,470 1270,500 1285,540 1300,600 1305,640 1310,700 1313,780 1480,780 1480,280 1243,280" fill="#108ed2"/>
<polygon points="1249,425 1251.3,436.3 1262,470 1276,510 1292,555 1305,600 1310,640 1315,700 1318,780 1480,780 1480,280 1249,280" fill="#1484d4"/>
<polygon points="1254,428 1256.9,438.2 1268.9,482 1268.9,497.2 1277.3,524 1280.7,564.3 1290.7,567.7 1297.5,564.3 1300,640 1305,700 1308,780 1480,780 1480,280 1254,280" fill="#1359db"/>
<polygon points="1270,440 1275.5,449.4 1284,463 1284,500 1300,547 1316,560 1316,640 1321,700 1324,780 1480,780 1480,280 1270,280" fill="#1484d4"/>
<polygon points="1286,450 1289,458 1292,490 1300,520 1306,545 1304,640 1309,700 1312,780 1480,780 1480,280 1286,280" fill="#108ed2"/>
<polygon points="1298,452 1300.4,458 1306,480 1312,510 1316,540 1318,640 1323,700 1326,780 1480,780 1480,280 1298,280" fill="#1484d4"/>
<polygon points="1305,455 1307,461 1316,490 1322,520 1326,560 1330,640 1335,700 1338,780 1480,780 1480,280 1305,280" fill="#117bd9"/>
<polygon points="1310,457 1312,463 1320,490 1328,520 1332,560 1336,640 1341,700 1344,780 1480,780 1480,280 1310,280" fill="#0972de"/>
<polygon points="1316,460 1318,466 1326,495 1333,530 1337,570 1340,640 1345,700 1348,780 1480,780 1480,280 1316,280" fill="#0268e1"/>
<polygon points="1198.4,493.8 1206.8,483.7 1220.2,470.3 1225.3,456.9 1230.3,442.6 1238.7,456.9 1245.4,473.7 1252.1,490.4 1262.2,514 1270.6,534 1277.3,550.9 1280.7,564.3 1290.7,591.2 1294,610 1285,640 1200,640 1180,500" fill="#06a2cb"/>
<polygon points="1205,500 1211.8,493.8 1223.6,489.6 1233.7,490.4 1243.7,502.2 1257.2,524 1268.9,547.5 1276,570 1282,600 1280,640 1200,640 1180,500" fill="#07a9c3"/>
<polygon points="1212,512 1223.6,507.2 1232,509 1248.8,524 1262.2,544 1274,567.7 1280,590 1278,640 1200,640 1180,500" fill="#0faeb9"/>
<polygon points="1216,522 1223.6,517.3 1232,519 1248.8,534 1265.6,564.3 1274,598 1275,640 1200,640 1180,500" fill="#33b8a1"/>
<polygon points="1230,545 1235.3,542.5 1242,540.8 1258,570 1270.6,598 1272,640 1200,640 1180,500" fill="#4abc93"/>
<polygon points="1268,642 1300,636 1306,660 1300,690 1310,720 1318,790 1270,790 1272,700" fill="#117bd9"/>
<polygon points="1282,690 1292,700 1300,725 1305,790 1290,790 1284,720" fill="#108ed2"/>
<polygon points="1276,660 1296,662 1290,675 1280,680" fill="#0268e1"/>
<polyline points="1078.8,300 1078.8,312.5 1072.5,372.5 1070,385 1070,405" fill="none" stroke="#000" stroke-width="1"/>
<polyline points="1092.5,300 1092.5,317.5 1090,385 1090,410" fill="none" stroke="#000" stroke-width="1"/>
<polyline points="1112.5,310 1112.5,327.5 1113.8,395 1113,420" fill="none" stroke="#000" stroke-width="1"/>
<polyline points="1122.5,320 1122.5,332.5 1123.8,400 1124,430" fill="none" stroke="#000" stroke-width="1"/>
<polyline points="1135.6,325 1135.6,339.3 1144,401 1137.5,410 1137,440" fill="none" stroke="#000" stroke-width="1"/>
<polyline points="1146.8,330 1146.8,348.7 1156,410.2 1146.8,417.7 1146,450" fill="none" stroke="#000" stroke-width="1"/>
<polyline points="1152.4,335 1152.4,352.4 1167.3,414 1154,423.3 1150,460" fill="none" stroke="#000" stroke-width="1"/>
<polyline points="1165,340 1167,360 1170,390 1172,414 1160,430 1155,470" fill="none" stroke="#000" stroke-width="1"/>
<polyline points="1186,360 1189.7,386 1184,423.3 1184,460.6 1182.2,470 1190,490" fill="none" stroke="#000" stroke-width="1"/>
<polyline points="1192,370 1194.4,389.7 1190,430 1188,475 1195,495" fill="none" stroke="#000" stroke-width="1"/>
<polyline points="1198,375 1200,395.3 1195,440 1192,480 1199,500" fill="none" stroke="#000" stroke-width="1"/>
<polyline points="1204,380 1206.5,400.9 1200,445 1196,485 1203,505" fill="none" stroke="#000" stroke-width="1"/>
<polyline points="1208,385 1210.2,404.6 1204,450 1200,490 1207,510" fill="none" stroke="#000" stroke-width="1"/>
<polyline points="1218,395 1221.4,414 1212,455 1204,492 1210,515" fill="none" stroke="#000" stroke-width="1"/>
<polyline points="1233,410 1236.3,425 1250,470 1262,514 1278,560 1295,610 1300,640 1305,700 1308,780" fill="none" stroke="#000" stroke-width="1"/>
<polyline points="1243,420 1245.7,432.6 1258,470 1270,500 1285,540 1300,600 1305,640 1310,700 1313,780" fill="none" stroke="#000" stroke-width="1"/>
<polyline points="1249,425 1251.3,436.3 1262,470 1276,510 1292,555 1305,600 1310,640 1315,700 1318,780" fill="none" stroke="#000" stroke-width="1"/>
<polyline points="1254,428 1256.9,438.2 1268.9,482 1268.9,497.2 1277.3,524 1280.7,564.3 1290.7,567.7 1297.5,564.3 1300,640 1305,700 1308,780" fill="none" stroke="#000" stroke-width="1"/>
<polyline points="1270,440 1275.5,449.4 1284,463 1284,500 1300,547 1316,560 1316,640 1321,700 1324,780" fill="none" stroke="#000" stroke-width="1"/>
<polyline points="1286,450 1289,458 1292,490 1300,520 1306,545 1304,640 1309,700 1312,780" fill="none" stroke="#000" stroke-width="1"/>
<polyline points="1298,452 1300.4,458 1306,480 1312,510 1316,540 1318,640 1323,700 1326,780" fill="none" stroke="#000" stroke-width="1"/>
<polyline points="1305,455 1307,461 1316,490 1322,520 1326,560 1330,640 1335,700 1338,780" fill="none" stroke="#000" stroke-width="1"/>
<polyline points="1310,457 1312,463 1320,490 1328,520 1332,560 1336,640 1341,700 1344,780" fill="none" stroke="#000" stroke-width="1"/>
<polyline points="1316,460 1318,466 1326,495 1333,530 1337,570 1340,640 1345,700 1348,780" fill="none" stroke="#000" stroke-width="1"/>
<polyline points="1198.4,493.8 1206.8,483.7 1220.2,470.3 1225.3,456.9 1230.3,442.6 1238.7,456.9 1245.4,473.7 1252.1,490.4 1262.2,514 1270.6,534 1277.3,550.9 1280.7,564.3 1290.7,591.2 1294,610 1285,640" fill="none" stroke="#000" stroke-width="1"/>
<polyline points="1205,500 1211.8,493.8 1223.6,489.6 1233.7,490.4 1243.7,502.2 1257.2,524 1268.9,547.5 1276,570 1282,600 1280,640" fill="none" stroke="#000" stroke-width="1"/>
<polyline points="1212,512 1223.6,507.2 1232,509 1248.8,524 1262.2,544 1274,567.7 1280,590 1278,640" fill="none" stroke="#000" stroke-width="1"/>
<polyline points="1216,522 1223.6,517.3 1232,519 1248.8,534 1265.6,564.3 1274,598 1275,640" fill="none" stroke="#000" stroke-width="1"/>
<polyline points="1230,545 1235.3,542.5 1242,540.8 1258,570 1270.6,598 1272,640" fill="none" stroke="#000" stroke-width="1"/>
<polyline points="1272,660 1282,690 1284,720 1290,790" fill="none" stroke="#000" stroke-width="1"/>
<polygon points="1100,404 1111.2,411 1122.4,417.7 1133.6,426.6 1144.8,436.7 1156,447.9 1167.2,460.2 1178.4,472.5 1185.1,464.4 1173.9,452.1 1162.5,439.7 1151,428.2 1139.4,417.7 1127.5,408.3 1115.9,401.3 1104.8,394.4" fill="#1359db"/>
<polyline points="1296,662 1292,700 1300,725 1305,790" fill="none" stroke="#000" stroke-width="1"/>
<polygon points="1290,612 1300,622 1306,636 1304,650 1296,660 1284,664 1276,662 1286,655 1296,646 1298,634 1292,622" fill="#1fb3ae" stroke="#000"/>
<polygon points="1293,618 1300,628 1302,640 1297,651 1289,657 1284,657 1292,648 1295,636 1291,625" fill="#4abc93" stroke="#000"/>
<polygon points="1264,648 1272,653 1284,652 1293,646 1295,636 1290,624 1282,618 1276,628" fill="#1359db"/>
<polygon points="1276,632 1281,627 1287,633 1290,640 1287,647 1280,649 1275,645" fill="#3638a3" stroke="#000" stroke-width="0.8"/>
<polygon points="1288,659 1300,658 1301,664 1290,665" fill="#000"/>
<polyline points="1266,740 1270,700 1284,668 1290,662" fill="none" stroke="#000" stroke-width="1"/>
<polyline points="1271,740 1275,700 1287,668 1292,662" fill="none" stroke="#000" stroke-width="1"/>
<polyline points="1276,740 1280,700 1290,668 1294,662" fill="none" stroke="#000" stroke-width="1"/>
<polyline points="1281,740 1285,700 1293,668 1296,662" fill="none" stroke="#000" stroke-width="1"/>
<polyline points="1286,740 1290,700 1296,668 1298,662" fill="none" stroke="#000" stroke-width="1"/>
</g></g>
<g clip-path="url(#crt)">
<polygon points="1318,280 1318,470 1319,485 1332.5,507.5 1337.5,545 1343.8,590 1340,645 1355,662.5 1357.5,687.5 1350,690 1302.5,665 1280,670 1280,682.5 1290,700 1305,720 1315,740 1315,780 1480,780 1480,280" fill="#1359db"/>
<polyline points="1318,470 1319,485 1332.5,507.5 1337.5,545 1343.8,590 1340,645 1355,662.5 1357.5,687.5 1350,690 1302.5,665 1280,670 1280,682.5 1290,700 1305,720 1315,740" fill="none" stroke="#000" stroke-width="1"/>
</g>
<polygon points="893,478.5 893.6,472.9 899.2,464 910.4,449.4 927.2,432.6 949.6,415.8 972,402.4 980,398 1002.4,390.7 1024.8,387.4 1041.6,386.8 1058.4,387.9 1080.7,393.5 1100,402 1111.2,409 1122.4,415.7 1133.6,424.6 1144.8,434.7 1156,445.9 1167.2,458.2 1178.4,470.5 1189.6,485.1 1200.8,499.6 1212.5,518 1224.8,541 1236,562 1247.2,582.7 1259,601 1263.6,609 1271,622.4 1277.8,636.6 1277,639.6 1272.5,642.5 1268.8,640.3 1263.6,631.3 1252.4,614.9 1241.2,600 1230,584.5 1215,564 1200,544 1183,521 1178.4,518.7 1167.2,507.5 1156,496.3 1144.8,486.2 1133.6,476.1 1122.4,467.2 1111.2,459.3 1100,452.6 1092,448.4 1069.6,440 1047.2,436.6 1024.8,435.5 1002.4,437.2 980,441.6 972,446 949.6,455 927.2,465.1 910.4,474 895.8,481.9" fill="#fff"/>
<polyline points="893,478.5 893.6,472.9 899.2,464 910.4,449.4 927.2,432.6 949.6,415.8 972,402.4 980,398 1002.4,390.7 1024.8,387.4 1041.6,386.8 1058.4,387.9 1080.7,393.5 1100,402 1111.2,409 1122.4,415.7 1133.6,424.6 1144.8,434.7 1156,445.9 1167.2,458.2 1178.4,470.5 1189.6,485.1 1200.8,499.6 1212.5,518 1224.8,541 1236,562 1247.2,582.7 1259,601 1263.6,609 1271,622.4" fill="none" stroke="#000" stroke-width="1.4"/>
<polygon points="1263.6,631.3 1252.4,614.9 1241.2,600 1230,584.5 1215,564 1200,544 1183,521 1178.4,518.7 1176.8,521.8 1180.3,523.3 1197.2,546.1 1212.2,566.1 1227.2,586.6 1238.4,602.1 1249.6,616.9 1260.7,633.3" fill="#2f47c0"/>
<polyline points="1260.5,633.4 1249.3,617.1 1238.1,602.3 1226.9,586.7 1211.9,566.3 1197,546.3 1180.1,523.5 1176.7,522.1" fill="none" stroke="#000" stroke-width="1"/>
<polyline points="1263.6,631.3 1252.4,614.9 1241.2,600 1230,584.5 1215,564 1200,544 1183,521 1178.4,518.7 1167.2,507.5 1156,496.3 1144.8,486.2 1133.6,476.1 1122.4,467.2 1111.2,459.3 1100,452.6 1092,448.4 1069.6,440 1047.2,436.6 1024.8,435.5 1002.4,437.2 980,441.6 972,446 949.6,455 927.2,465.1 910.4,474 895.8,481.9" fill="none" stroke="#000" stroke-width="1.3"/>
<polyline points="1165.1,509.6 1153.9,498.5 1142.8,488.4 1131.7,478.4 1120.6,469.6 1109.6,461.8 1098.5,455.2 1090.9,451.2 1068.8,442.9 1046.9,439.6 1024.8,438.5 1002.8,440.2 980.8,444.5 973.4,448.6" fill="none" stroke="#000" stroke-width="1"/>
<g fill="#000" shape-rendering="auto">
<text x="947.4 987.4 1031.4 1065.7 1109.5" y="233" font-family="'Liberation Sans', Arial, sans-serif" font-size="59">ROTOR</text>
<text x="200.6 238.6 272.1 310.3 344.2 388" y="750" font-family="'Liberation Sans', Arial, sans-serif" font-size="61">STATOR</text>
</g>
<rect x="200" y="875" width="17.8" height="75.7" fill="#352a87"/>
<rect x="217.2" y="875" width="34.9" height="75.7" fill="#3638a3"/>
<rect x="251.4" y="875" width="34.9" height="75.7" fill="#2f47c0"/>
<rect x="285.8" y="875" width="34.9" height="75.7" fill="#1359db"/>
<rect x="320.1" y="875" width="34.9" height="75.7" fill="#0268e1"/>
<rect x="354.4" y="875" width="34.9" height="75.7" fill="#0972de"/>
<rect x="388.7" y="875" width="34.9" height="75.7" fill="#117bd9"/>
<rect x="423" y="875" width="34.9" height="75.7" fill="#1484d4"/>
<rect x="457.3" y="875" width="34.9" height="75.7" fill="#108ed2"/>
<rect x="491.6" y="875" width="34.9" height="75.7" fill="#0899d1"/>
<rect x="525.9" y="875" width="34.9" height="75.7" fill="#06a2cb"/>
<rect x="560.1" y="875" width="34.9" height="75.7" fill="#07a9c3"/>
<rect x="594.4" y="875" width="34.9" height="75.7" fill="#0faeb9"/>
<rect x="628.7" y="875" width="34.9" height="75.7" fill="#1fb3ae"/>
<rect x="663" y="875" width="34.9" height="75.7" fill="#33b8a1"/>
<rect x="697.3" y="875" width="34.9" height="75.7" fill="#4abc93"/>
<rect x="731.6" y="875" width="34.9" height="75.7" fill="#65be86"/>
<rect x="765.9" y="875" width="34.9" height="75.7" fill="#7fbf7a"/>
<rect x="800.2" y="875" width="34.9" height="75.7" fill="#97bf71"/>
<rect x="834.5" y="875" width="34.9" height="75.7" fill="#acbe68"/>
<rect x="868.8" y="875" width="34.9" height="75.7" fill="#c0bc60"/>
<rect x="903.1" y="875" width="34.9" height="75.7" fill="#d3bb58"/>
<rect x="937.4" y="875" width="34.9" height="75.7" fill="#e5b950"/>
<rect x="971.7" y="875" width="34.9" height="75.7" fill="#f7ba45"/>
<rect x="1006" y="875" width="34.9" height="75.7" fill="#ffc337"/>
<rect x="1040.3" y="875" width="34.9" height="75.7" fill="#fbcf2d"/>
<rect x="1074.6" y="875" width="34.9" height="75.7" fill="#f6db23"/>
<rect x="1108.9" y="875" width="34.9" height="75.7" fill="#f5e919"/>
<rect x="1143.2" y="875" width="17.1" height="75.7" fill="#f9fb0e"/>
<g fill="#000" shape-rendering="auto">
<text x="160.9" y="1028" font-family="'Liberation Sans', Arial, sans-serif" font-size="53" textLength="114.1" lengthAdjust="spacingAndGlyphs">-0.80</text>
<text x="332" y="1028" font-family="'Liberation Sans', Arial, sans-serif" font-size="53" textLength="114.1" lengthAdjust="spacingAndGlyphs">-0.31</text>
<text x="503.5" y="1028" font-family="'Liberation Sans', Arial, sans-serif" font-size="53" textLength="114.1" lengthAdjust="spacingAndGlyphs">-0.30</text>
<text x="675.4" y="1028" font-family="'Liberation Sans', Arial, sans-serif" font-size="53" textLength="114.1" lengthAdjust="spacingAndGlyphs">-0.22</text>
<text x="847.3" y="1028" font-family="'Liberation Sans', Arial, sans-serif" font-size="53" textLength="114.1" lengthAdjust="spacingAndGlyphs">-0.21</text>
<text x="1018.2" y="1028" font-family="'Liberation Sans', Arial, sans-serif" font-size="53" textLength="114.1" lengthAdjust="spacingAndGlyphs">-0.20</text>
<text transform="translate(33.5,1028) scale(0.93,1)" font-family="'Liberation Serif', 'Times New Roman', serif" font-size="70">Ψ</text>
<text x="86" y="1045" font-family="'Liberation Sans', Arial, sans-serif" font-size="38.5">1</text>
<text x="105.5" y="1027.5" font-family="'Liberation Sans', Arial, sans-serif" font-size="66">:</text>
</g>
<rect x="1241" y="820.5" width="163" height="3.2" fill="#000"/>
<rect x="1241" y="820.5" width="3.6" height="162.5" fill="#000"/>
<rect x="1244" y="823.2" width="47.5" height="47" fill="none" stroke="#000" stroke-width="1"/>
<g fill="#000" shape-rendering="auto">
<text transform="translate(1230,836) scale(0.9,1)" font-family="'Liberation Sans', Arial, sans-serif" font-size="41.5">X</text>
<text transform="translate(1428,836) scale(0.95,1)" font-family="'Liberation Sans', Arial, sans-serif" font-size="41.5">Z</text>
<text transform="translate(1230,1032) scale(0.95,1)" font-family="'Liberation Sans', Arial, sans-serif" font-size="41.5">Y</text>
</g>
</svg>
</body></html>
